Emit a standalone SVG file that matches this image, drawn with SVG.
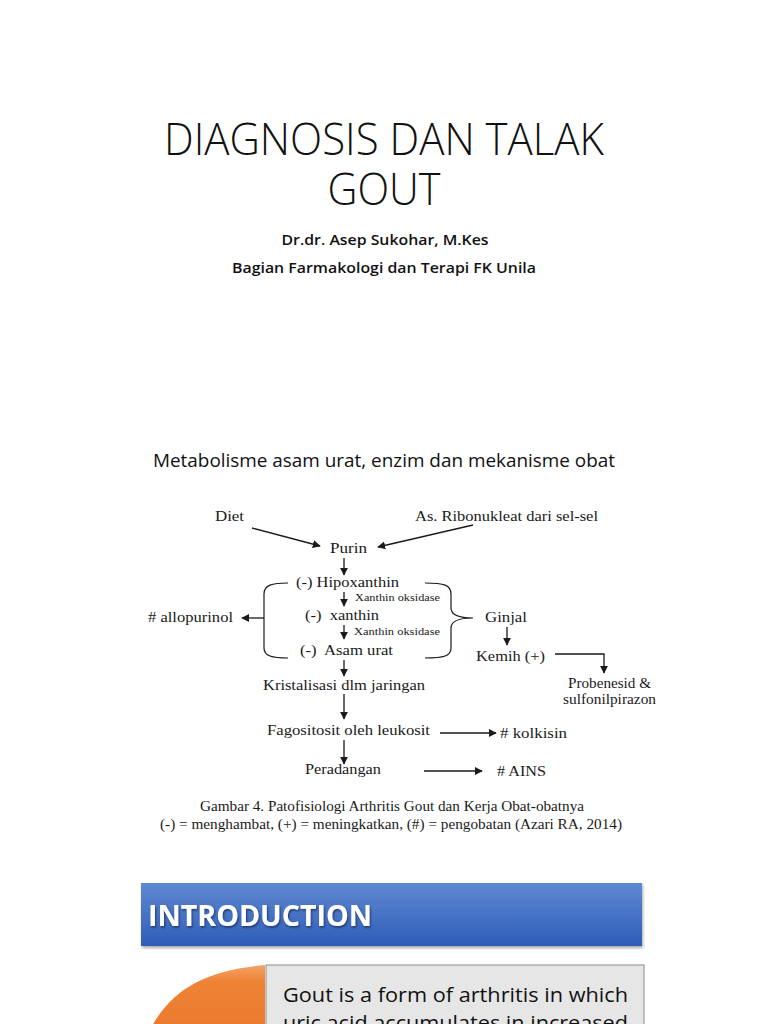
<svg xmlns="http://www.w3.org/2000/svg" width="768" height="1024" viewBox="0 0 768 1024">
<defs>
<style>
.ti{font-family:"Open Sans","Noto Sans",sans-serif;font-weight:300;font-size:44px;fill:#111}
.sb{font-family:"Open Sans","Noto Sans",sans-serif;font-weight:600;font-size:14px;fill:#111}
.hd{font-family:"Open Sans","Noto Sans",sans-serif;font-size:18px;fill:#111}
.s{font-family:"Liberation Serif","Times New Roman",serif;font-size:15px;fill:#1a1a1a}
.sm{font-family:"Liberation Serif","Times New Roman",serif;font-size:11px;fill:#1a1a1a}
.cap{font-family:"Liberation Serif","Times New Roman",serif;font-size:14px;fill:#1a1a1a}
.ln{stroke:#1a1a1a;stroke-width:1.3;fill:none}
.br{stroke:#1a1a1a;stroke-width:1.2;fill:none}
.intro{font-family:"Open Sans","Noto Sans",sans-serif;font-weight:700;font-size:29px;fill:#fff}
.body{font-family:"Open Sans","Noto Sans",sans-serif;font-size:20px;fill:#111}
</style>
<marker id="ah" viewBox="0 0 10 10" refX="9" refY="5" markerWidth="8" markerHeight="8" markerUnits="userSpaceOnUse" orient="auto">
<path d="M0,0 L10,5 L0,10 z" fill="#1a1a1a"/>
</marker>
<linearGradient id="blue" x1="0" y1="0" x2="0" y2="1">
<stop offset="0" stop-color="#5f89d3"/>
<stop offset="1" stop-color="#2e5db7"/>
</linearGradient>
<linearGradient id="orange" x1="0" y1="0" x2="0" y2="1">
<stop offset="0" stop-color="#f4a36a"/>
<stop offset="0.25" stop-color="#ee8336"/>
<stop offset="1" stop-color="#ec7a2c"/>
</linearGradient>
<filter id="sh" x="-5%" y="-10%" width="110%" height="130%">
<feDropShadow dx="1" dy="2" stdDeviation="1.5" flood-color="#000" flood-opacity="0.35"/>
</filter>
<filter id="tsh" x="-5%" y="-20%" width="110%" height="150%">
<feDropShadow dx="1" dy="1.5" stdDeviation="0.8" flood-color="#000" flood-opacity="0.5"/>
</filter>
</defs>
<rect width="768" height="1024" fill="#fff"/>

<g id="title">
<text class="ti" x="384" y="155" text-anchor="middle" textLength="440" lengthAdjust="spacingAndGlyphs">DIAGNOSIS DAN TALAK</text>
<text class="ti" x="384" y="205" text-anchor="middle" textLength="113" lengthAdjust="spacingAndGlyphs">GOUT</text>
<text class="sb" x="385" y="245" text-anchor="middle" textLength="207" lengthAdjust="spacingAndGlyphs">Dr.dr. Asep Sukohar, M.Kes</text>
<text class="sb" x="384" y="273" text-anchor="middle" textLength="304" lengthAdjust="spacingAndGlyphs">Bagian Farmakologi dan Terapi FK Unila</text>
<text class="hd" x="384" y="467" text-anchor="middle" textLength="462" lengthAdjust="spacingAndGlyphs">Metabolisme asam urat, enzim dan mekanisme obat</text>
</g>

<g id="connectors">
<line class="ln" x1="252" y1="528" x2="320" y2="546" marker-end="url(#ah)"/>
<line class="ln" x1="473" y1="525" x2="378" y2="547" marker-end="url(#ah)"/>
<line class="ln" x1="344" y1="558" x2="344" y2="575" marker-end="url(#ah)"/>
<line class="ln" x1="344" y1="592" x2="344" y2="606" marker-end="url(#ah)"/>
<line class="ln" x1="344" y1="625" x2="344" y2="639" marker-end="url(#ah)"/>
<line class="ln" x1="344" y1="660" x2="344" y2="676" marker-end="url(#ah)"/>
<line class="ln" x1="344" y1="694" x2="344" y2="719" marker-end="url(#ah)"/>
<line class="ln" x1="344" y1="740" x2="344" y2="764" marker-end="url(#ah)"/>
<line class="ln" x1="440" y1="733" x2="496" y2="733" marker-end="url(#ah)"/>
<line class="ln" x1="424" y1="771" x2="482" y2="771" marker-end="url(#ah)"/>
<line class="ln" x1="264" y1="618" x2="242" y2="618" marker-end="url(#ah)"/>
<line class="ln" x1="507" y1="627" x2="507" y2="645" marker-end="url(#ah)"/>
<polyline class="ln" points="555,654 604,654 604,673" marker-end="url(#ah)"/>
<path class="br" d="M288,583 C272,583 264,585 264,594 L264,648 C264,656 272,658 288,658"/>
<path class="br" d="M425,583 C444,583 451,585 451,594 L451,608 C451,615 458,618 473,618 C458,618 451,621 451,628 L451,648 C451,656 444,658 425,658"/>
</g>

<g id="n-diet"><text class="s" x="215" y="521" textLength="29" lengthAdjust="spacingAndGlyphs">Diet</text></g>
<g id="n-ribo"><text class="s" x="415" y="521" textLength="183" lengthAdjust="spacingAndGlyphs">As. Ribonukleat dari sel-sel</text></g>
<g id="n-purin"><text class="s" x="330" y="553" textLength="37" lengthAdjust="spacingAndGlyphs">Purin</text></g>
<g id="n-hipox"><text class="s" x="296" y="587" textLength="103" lengthAdjust="spacingAndGlyphs">(-) Hipoxanthin</text></g>
<g id="n-xo1"><text class="sm" x="355" y="601" textLength="85" lengthAdjust="spacingAndGlyphs">Xanthin oksidase</text></g>
<g id="n-xanthin"><text class="s" x="305" y="620" xml:space="preserve" textLength="74" lengthAdjust="spacingAndGlyphs">(-)  xanthin</text></g>
<g id="n-xo2"><text class="sm" x="354" y="635" textLength="86" lengthAdjust="spacingAndGlyphs">Xanthin oksidase</text></g>
<g id="n-asam"><text class="s" x="300" y="655" xml:space="preserve" textLength="93" lengthAdjust="spacingAndGlyphs">(-)  Asam urat</text></g>
<g id="n-allo"><text class="s" x="148" y="622" textLength="85" lengthAdjust="spacingAndGlyphs"># allopurinol</text></g>
<g id="n-ginjal"><text class="s" x="485" y="622" textLength="42" lengthAdjust="spacingAndGlyphs">Ginjal</text></g>
<g id="n-kemih"><text class="s" x="476" y="661" textLength="69" lengthAdjust="spacingAndGlyphs">Kemih (+)</text></g>
<g id="n-prob">
<text class="cap" x="568" y="688" font-size="13" textLength="83" lengthAdjust="spacingAndGlyphs">Probenesid &amp;</text>
<text class="cap" x="563" y="704" font-size="13" textLength="93" lengthAdjust="spacingAndGlyphs">sulfonilpirazon</text>
</g>
<g id="n-krist"><text class="s" x="263" y="690" textLength="162" lengthAdjust="spacingAndGlyphs">Kristalisasi dlm jaringan</text></g>
<g id="n-fago"><text class="s" x="267" y="735" textLength="163" lengthAdjust="spacingAndGlyphs">Fagositosit oleh leukosit</text></g>
<g id="n-kolk"><text class="s" x="500" y="738" textLength="67" lengthAdjust="spacingAndGlyphs"># kolkisin</text></g>
<g id="n-perad"><text class="s" x="305" y="774" textLength="76" lengthAdjust="spacingAndGlyphs">Peradangan</text></g>
<g id="n-ains"><text class="s" x="497" y="776" textLength="49" lengthAdjust="spacingAndGlyphs"># AINS</text></g>
<g id="caption">
<text class="cap" x="392" y="811" text-anchor="middle" textLength="384" lengthAdjust="spacingAndGlyphs">Gambar 4. Patofisiologi Arthritis Gout dan Kerja Obat-obatnya</text>
<text class="cap" x="391" y="829" text-anchor="middle" textLength="462" lengthAdjust="spacingAndGlyphs">(-) = menghambat, (+) = meningkatkan, (#) = pengobatan (Azari RA, 2014)</text>
</g>

<g id="intro">
<rect x="141" y="883" width="501" height="63" fill="url(#blue)" filter="url(#sh)"/>
<text class="intro" x="148" y="926" filter="url(#tsh)" textLength="224" lengthAdjust="spacingAndGlyphs">INTRODUCTION</text>
</g>

<g id="gout">
<path d="M265,965 L265,1030 L150,1030 C170,990 205,970 265,965 Z" fill="url(#orange)"/>
<rect x="266" y="965" width="378" height="70" fill="#e6e6e6" stroke="#8c8c8c" stroke-width="1"/>
<text class="body" x="283" y="1002" textLength="345" lengthAdjust="spacingAndGlyphs">Gout is a form of arthritis in which</text>
<text class="body" x="283" y="1030" textLength="345" lengthAdjust="spacingAndGlyphs">uric acid accumulates in increased</text>
</g>
</svg>
